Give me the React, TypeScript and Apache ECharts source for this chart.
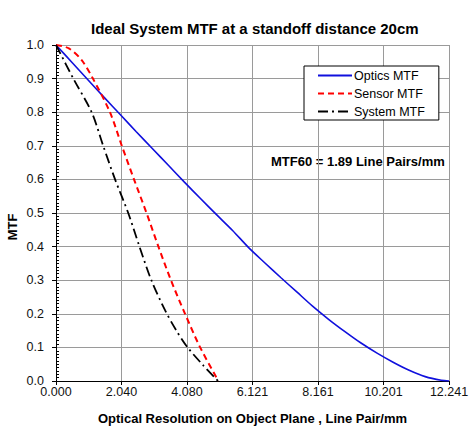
import React, { useEffect, useRef } from "react";
import * as echarts from "echarts";

const titleText = "Ideal System MTF at a standoff distance 20cm";
const xAxisName = "Optical Resolution on Object Plane , Line Pair/mm";
const yAxisName = "MTF";
const annotation = "MTF60 = 1.89 Line Pairs/mm";
const seriesNames = ["Optics MTF", "Sensor MTF", "System MTF"];

const xTickLabels = ["0.000", "2.040", "4.080", "6.121", "8.161", "10.201", "12.241"];
const xStep = 2.0402;
const xMax = 12.2412;

const opticsX = [0, 0.5, 1, 1.5, 2, 2.5, 3, 3.5, 4, 4.5, 5, 5.5, 6, 6.5, 7, 7.5, 8, 8.5, 9, 9.5, 10, 10.5, 11, 11.5, 12, 12.241];
const opticsY = [1, 0.948, 0.896, 0.844, 0.793, 0.742, 0.692, 0.642, 0.592, 0.543, 0.495, 0.448, 0.397, 0.352, 0.308, 0.265, 0.222, 0.183, 0.147, 0.113, 0.083, 0.056, 0.032, 0.013, 0.002, 0];

const sensorX = [0, 0.4, 0.8, 1.15, 1.68, 2.05, 2.43, 2.82, 3.19, 3.58, 4.02, 4.49, 5.06];
const sensorY = [1, 0.99, 0.955, 0.9, 0.8, 0.7, 0.6, 0.5, 0.4, 0.3, 0.2, 0.1, 0];

const systemX = [0, 0.54, 1.11, 1.47, 1.84, 2.25, 2.6, 2.97, 3.4, 3.75, 4.1, 4.6, 5.05];
const systemY = [1, 0.9, 0.8, 0.7, 0.6, 0.5, 0.4, 0.3, 0.21, 0.15, 0.1, 0.045, 0];

const FONT = "'Liberation Sans', Arial, sans-serif";

const zip = (xs: number[], ys: number[]) => xs.map((x, i) => [x, ys[i]]);

export default function App() {
  const ref = useRef<HTMLDivElement>(null);
  useEffect(() => {
    if (!ref.current) return;
    const chart = echarts.init(ref.current, undefined, { renderer: "svg" });
    chart.setOption({
      animation: false,
      backgroundColor: "#fff",
      textStyle: { fontFamily: FONT },
      title: {
        text: titleText,
        left: 91,
        top: 21,
        padding: 0,
        textStyle: { fontFamily: FONT, fontSize: 15, fontWeight: "bold", color: "#000" },
      },
      grid: { left: 56, top: 45, right: 25, bottom: 59, containLabel: false },
      legend: {
        orient: "vertical",
        left: 304,
        top: 66,
        padding: [3, 14, 2, 13],
        itemGap: 5,
        itemWidth: 34,
        itemHeight: 14,
        borderColor: "#000",
        borderWidth: 1,
        backgroundColor: "#fff",
        itemStyle: { opacity: 0 },
        textStyle: { fontFamily: FONT, fontSize: 12.5, color: "#000", padding: [0, 0, 0, -3] },
        data: seriesNames,
      },
      xAxis: {
        type: "value",
        min: 0,
        max: xMax,
        interval: xStep,
        name: xAxisName,
        nameLocation: "middle",
        nameGap: 31,
        nameTextStyle: { fontFamily: FONT, fontSize: 13, fontWeight: "bold", color: "#000" },
        axisLine: { show: true, onZero: false, lineStyle: { color: "#000", width: 1 } },
        axisTick: { show: true, length: 4, lineStyle: { color: "#000" } },
        axisLabel: {
          margin: 4,
          fontFamily: FONT,
          fontSize: 12.5,
          color: "#111",
          formatter: (v: number) => xTickLabels[Math.round(v / xStep)] ?? "",
        },
        splitLine: { show: true, lineStyle: { color: "#9a9a9a", width: 1 } },
      },
      yAxis: {
        type: "value",
        min: 0,
        max: 1,
        interval: 0.1,
        axisLine: { show: true, lineStyle: { color: "#000", width: 1 } },
        axisTick: { show: true, length: 4, lineStyle: { color: "#000" } },
        minorTick: { show: true, splitNumber: 10, length: -3, lineStyle: { color: "#000" } },
        axisLabel: {
          margin: 12,
          fontFamily: FONT,
          fontSize: 12.5,
          color: "#111",
          formatter: (v: number) => v.toFixed(1),
        },
        splitLine: { show: true, lineStyle: { color: "#9a9a9a", width: 1 } },
      },
      graphic: [
        {
          type: "text",
          x: 12,
          y: 227,
          rotation: Math.PI / 2,
          style: {
            text: yAxisName,
            font: `bold 13px ${FONT}`,
            fill: "#000",
            align: "center",
            verticalAlign: "middle",
          },
        },
        {
          type: "text",
          x: 271,
          y: 161,
          style: {
            text: annotation,
            font: `bold 13px ${FONT}`,
            fill: "#000",
            align: "left",
            verticalAlign: "middle",
          },
        },
      ],
      series: [
        {
          name: seriesNames[0],
          type: "line",
          data: zip(opticsX, opticsY),
          smooth: 0.3,
          symbol: "none",
          lineStyle: { color: "#1010dd", width: 1.6, type: "solid" },
          itemStyle: { color: "#1010dd" },
          z: 3,
        },
        {
          name: seriesNames[1],
          type: "line",
          data: zip(sensorX, sensorY),
          smooth: 0.3,
          symbol: "none",
          lineStyle: { color: "#ff0000", width: 2, type: [6, 4] },
          itemStyle: { color: "#ff0000" },
          z: 4,
        },
        {
          name: seriesNames[2],
          type: "line",
          data: zip(systemX, systemY),
          smooth: 0.3,
          symbol: "none",
          lineStyle: { color: "#000", width: 1.8, type: [10, 4, 2, 4] },
          itemStyle: { color: "#000" },
          z: 5,
        },
      ],
    });
    return () => chart.dispose();
  }, []);
  return (
    <div
      ref={ref}
      style={{ position: "fixed", left: 0, top: 0, width: 474, height: 440, background: "#fff" }}
    />
  );
}
